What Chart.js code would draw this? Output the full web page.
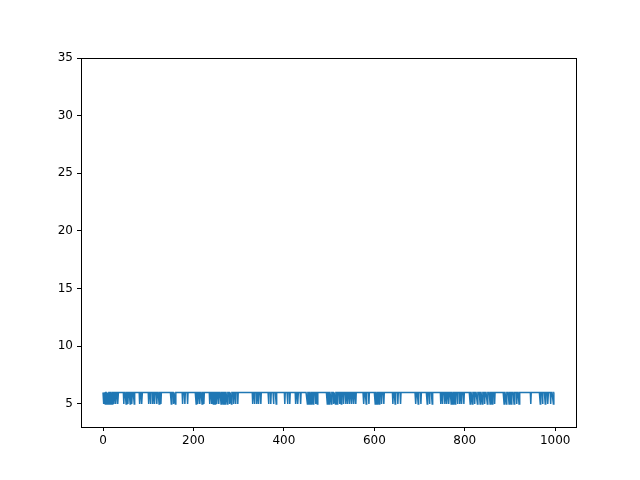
<!DOCTYPE html>
<html>
<head>
<script src="https://cdn.jsdelivr.net/npm/chart.js@4"></script>
<style>body{margin:0;background:#fff}#wrap{width:640px;height:480px}</style>
</head>
<body>
<div id="wrap"><canvas id="c"></canvas></div>
<script>
// indices where the series dips from 6 down to 5
const dropIndices = [2,5,9,12,16,20,24,28,33,46,51,55,60,64,69,81,86,101,105,110,114,119,124,128,
  151,156,160,176,181,187,206,210,214,219,223,236,240,244,248,252,256,261,266,270,275,280,284,289,293,298,
  331,335,340,344,349,366,371,377,383,402,408,413,426,431,437,452,456,460,465,470,474,
  496,500,505,510,514,518,523,527,532,537,541,546,550,555,559,577,582,588,602,606,611,616,621,
  641,646,652,658,692,697,703,717,722,728,747,751,756,760,765,770,774,779,784,789,793,798,
  812,817,822,828,834,839,844,850,856,861,866,887,892,898,903,909,915,920,946,967,972,978,984,990,996];
const highValue = 6;
const lowValue = 5;
const pointCount = 1000;
const yTicks = [5, 10, 15, 20, 25, 30, 35];
const xTicks = [0, 200, 400, 600, 800, 1000];

const points = [];
for (let i = 0; i < pointCount; i++) {
    points.push({ x: i, y: dropIndices.includes(i) ? lowValue : highValue });
}

const frame = {
    id: 'frame',
    afterDraw(chart) {
        const a = chart.chartArea, ctx = chart.ctx;
        ctx.save();
        ctx.strokeStyle = '#000';
        ctx.lineWidth = 1;
        ctx.strokeRect(a.left + 0.5, a.top + 0.5, a.right - a.left, a.bottom - a.top);
        ctx.restore();
    }
};

const tickFont = { family: 'DejaVu Sans', size: 12 };

new Chart(document.getElementById('c'), {
    type: 'line',
    data: {
        datasets: [{
            data: points,
            borderColor: '#1f77b4',
            borderWidth: 1.5,
            pointRadius: 0,
            fill: false,
            tension: 0
        }]
    },
    options: {
        responsive: true,
        maintainAspectRatio: false,
        animation: false,
        layout: { padding: { left: 0, top: 58, right: 64, bottom: 0 } },
        plugins: { legend: { display: false }, tooltip: { enabled: false } },
        scales: {
            x: {
                type: 'linear',
                min: -48.7,
                max: 1046,
                afterFit(s) { s.height = 53; },
                afterBuildTicks(s) { s.ticks = xTicks.map(v => ({ value: v })); },
                grid: { drawOnChartArea: false, tickLength: 4, color: '#000' },
                border: { display: false },
                ticks: { color: '#000', font: tickFont, maxRotation: 0, padding: 3, callback: v => String(v) }
            },
            y: {
                min: 3,
                max: 35,
                afterFit(s) { s.width = 81; },
                afterBuildTicks(s) { s.ticks = yTicks.map(v => ({ value: v })); },
                grid: { drawOnChartArea: false, tickLength: 4, color: '#000' },
                border: { display: false },
                ticks: { color: '#000', font: tickFont, padding: 4, callback: v => String(v) }
            }
        }
    },
    plugins: [frame]
});
</script>
</body>
</html>
